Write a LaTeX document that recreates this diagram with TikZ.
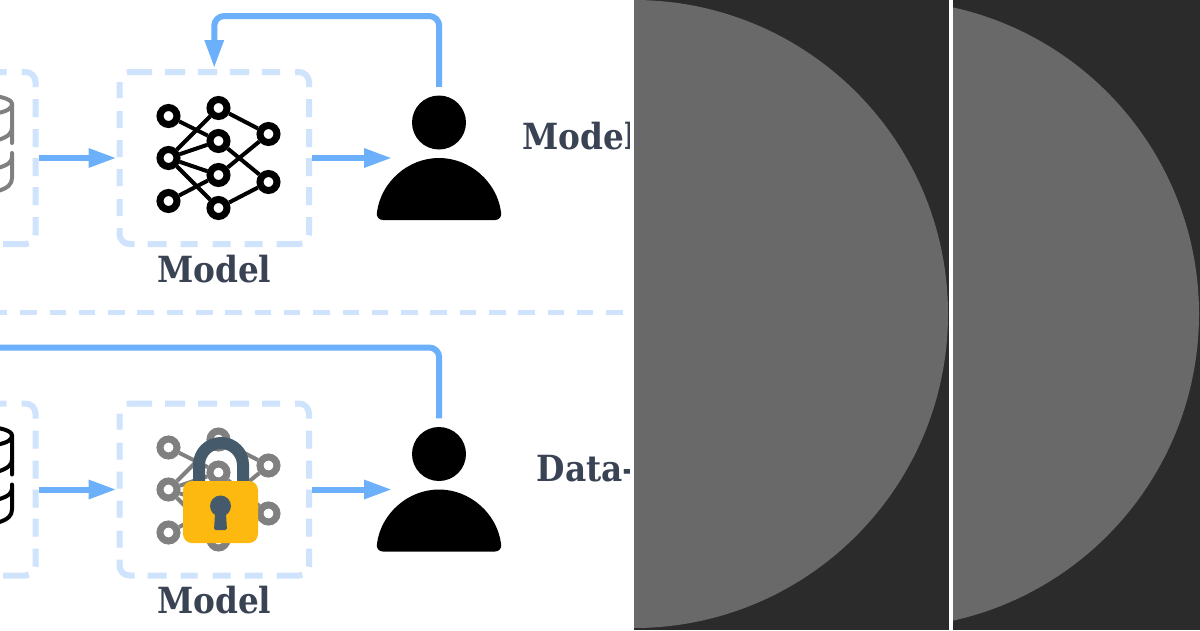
\documentclass[tikz,border=0pt]{standalone}
\usepackage{fontspec}
\setmainfont[FakeStretch=0.91]{DejaVu Serif}
\usetikzlibrary{positioning, arrows.meta}
\definecolor{flowblue}{HTML}{6CAFFB}
\definecolor{boxblue}{HTML}{CFE3FD}
\definecolor{labelink}{HTML}{3A4354}
\definecolor{netgray}{HTML}{808080}
\definecolor{lockgold}{HTML}{FDB90F}
\definecolor{lockslate}{HTML}{455A6A}
\definecolor{paneldark}{HTML}{2B2B2B}
\definecolor{discgray}{HTML}{696969}

\begin{document}
\begin{tikzpicture}[
    x=1pt, y=-1pt,
    node distance=78pt,
    stagebox/.style={
        draw=boxblue,
        line width=6pt,
        dash pattern=on 4pt off 15pt on 18pt off 13pt on 19pt off 13pt on 19pt off 13pt on 20pt off 13pt
            on 25.2pt off 13pt on 16pt off 13pt on 17pt off 12pt on 17pt off 12pt on 17pt off 13pt on 17pt off 12pt
            on 26.7pt off 13pt on 19pt off 14pt on 17pt off 15pt on 18pt off 14pt on 18pt off 14pt
            on 25.7pt off 11pt on 18pt off 12pt on 18pt off 11pt on 18pt off 11pt on 18pt off 12pt on 18pt off 12pt
            on 30pt off 1pt,
        rounded corners=10pt,
        minimum width=189.5pt,
        minimum height=172pt,
        inner sep=0pt
    },
    usernode/.style={minimum width=98pt, minimum height=142pt, inner sep=0pt},
    arrow/.style={-{Triangle[length=28pt,width=18pt]}, draw=flowblue, line width=6pt},
    stagelabel/.style={font=\fontsize{36}{40}\selectfont\bfseries, text=labelink, inner sep=0pt},
    netnode/.style={circle, draw, fill=white, line width=7pt, minimum size=17pt, inner sep=0pt},
    netedge/.style={line width=4pt},
    barrel/.style={line width=4pt, line cap=round}
]
\clip (0,0) rectangle (1200,630);
\fill[white] (0,0) rectangle (1200,630);

% stages of the two rows
\node[stagebox] (model1) at (214.25,158) {};
\node[stagebox, left=of model1] (data1) {};
\node[usernode, right=of model1] (user1) {};
\node[stagebox] (model2) at (214.25,489.5) {};
\node[stagebox, left=of model2] (data2) {};
\node[usernode, right=of model2] (user2) {};

\node[stagelabel, below=7.7pt of model1] (name1) {Model};
\node[stagelabel, below=7.7pt of model2] (name2) {Model};

% divider between the rows
\coordinate (div1) at (622.7,312);
\coordinate (div2) at (0,312);
\draw[draw=boxblue, line width=5pt, dash pattern=on 16.5pt off 12.8pt] (div1) -- (div2);

% networks
\foreach \row/\yy/\col in {1/158/black, 2/489.5/netgray} {
    \foreach \nn/\dx/\dy in {a/-46/-42, b/-46/0, c/-46/43, d/4/-50, e/4/-17, f/4/17, g/4/50, h/54/-24, i/54/24}
        \node[netnode, draw=\col] (\nn\row) at (214.5+\dx,\yy+\dy) {};
    \foreach \from/\to in {a/e, b/d, b/e, b/f, b/g, c/f, d/h, e/i, f/h, g/i}
        \draw[netedge, draw=\col] (\from\row) -- (\to\row);
}

% lock over the second network
\draw[lockslate, line width=12pt] (199,485) -- (199,465)
    .. controls (199,452.8) and (208.8,443) .. (221,443)
    .. controls (233.2,443) and (243,452.8) .. (243,465) -- (243,485);
\node[fill=lockgold, rounded corners=9pt, minimum width=75pt, minimum height=62pt, inner sep=0pt] (lock) at (220.5,512) {};
\node[circle, fill=lockslate, minimum size=21pt, inner sep=0pt] (keyhole) at (220.5,506) {};
\fill[lockslate, rounded corners=1.5pt] (215.5,506) -- (225.5,506) -- (227,530) -- (214,530) -- cycle;

% data barrels, cut by the edge of the picture
\foreach \yy/\col in {0/netgray, 331.5/black} {
    \begin{scope}[yshift=-\yy pt, draw=\col]
    \draw[barrel] (-12,95) .. controls (-4,96) and (12,98) .. (12,104) -- (12,143);
    \draw[barrel] (12,104) .. controls (12,108) and (8,111) .. (-2,113);
    \draw[barrel] (12,128) .. controls (12,133) and (8,137) .. (-2,140);
    \draw[barrel] (12,153) -- (12,178) .. controls (12,184) and (8,188) .. (-2,191);
    \draw[barrel] (12,157) .. controls (12,162) and (8,165) .. (-2,168);
    \end{scope}
}

% people
\foreach \row/\yy in {1/0, 2/331.5} {
    \node[circle, fill=black, minimum size=54pt, inner sep=0pt] (head\row) at (439,122.5+\yy) {};
    \fill[black] (377,212+\yy) .. controls (381,182+\yy) and (408,158+\yy) .. (439,158+\yy)
        .. controls (470,158+\yy) and (497,182+\yy) .. (501,212+\yy)
        .. controls (502,217+\yy) and (499,220+\yy) .. (495,220+\yy)
        -- (383,220+\yy) .. controls (379,220+\yy) and (376,217+\yy) .. (377,212+\yy) -- cycle;
}

% flow
\draw[arrow] (data1) -- (model1);
\draw[arrow, shorten >=-2pt] (model1) -- (user1);
\draw[arrow] (data2) -- (model2);
\draw[arrow, shorten >=-2pt] (model2) -- (user2);
\draw[arrow, rounded corners=10pt, shorten >=1pt] (user1.north) |- (214.25,16) -- (model1.north);
\coordinate (back2) at (-20,347.5);
\draw[draw=flowblue, line width=6pt, rounded corners=10pt] (user2.north) |- (back2);

% side labels, cut where the panels begin
\begin{scope}
\clip (0,0) rectangle (630,630);
\node[stagelabel, anchor=base west] (side1) at (522.5,149.5) {Model};
\node[stagelabel, anchor=base west] (side2) at (536.5,481) {Data-};
\end{scope}

% dark panels
\fill[white] (630,0) rectangle (1200,630);
\begin{scope}
\clip (634,0) rectangle (949,630);
\fill[paneldark] (634,0) rectangle (949,630);
\fill[discgray] (634,314) circle (314);
\end{scope}
\begin{scope}
\clip (953,0) rectangle (1200,630);
\fill[paneldark] (953,0) rectangle (1200,630);
\fill[discgray] (885,314) circle (314);
\end{scope}
\end{tikzpicture}
\end{document}
